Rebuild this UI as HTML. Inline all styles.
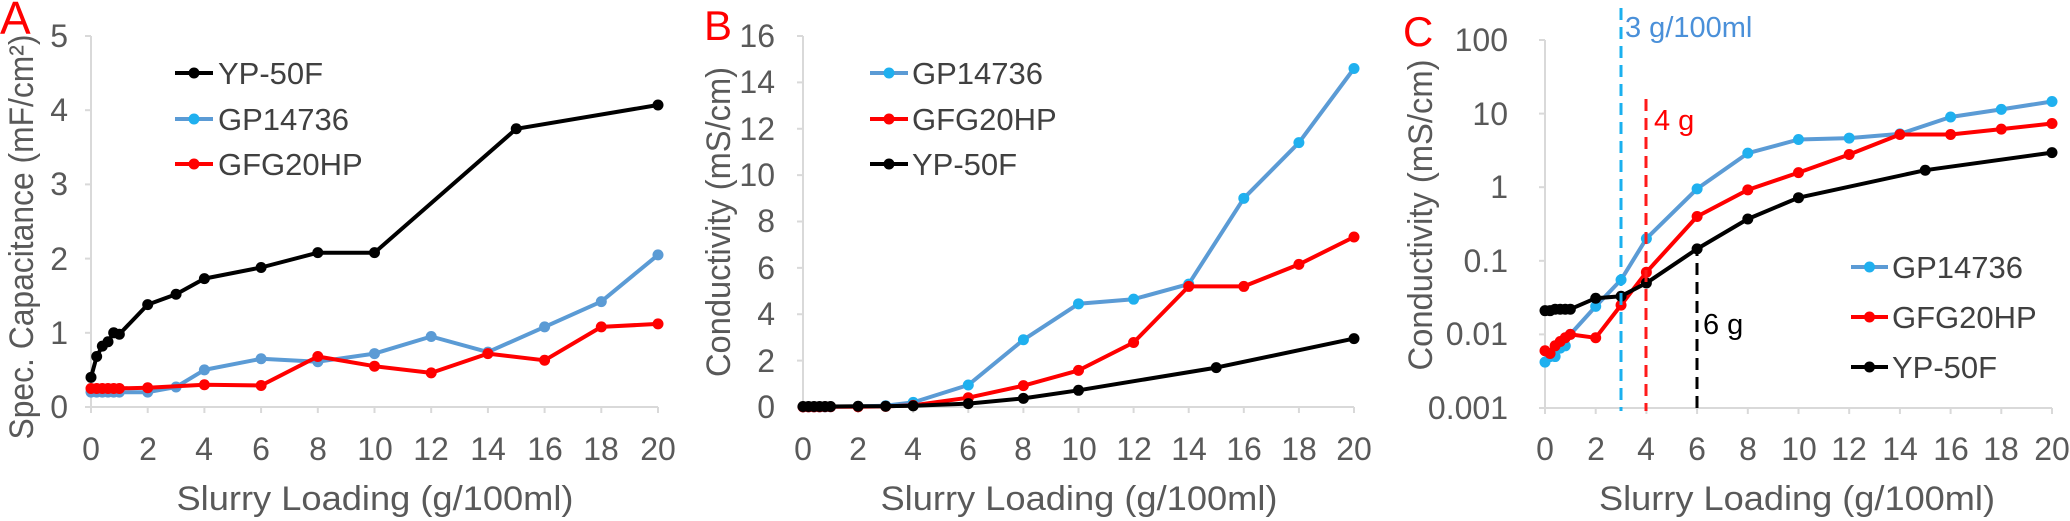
<!DOCTYPE html>
<html><head><meta charset="utf-8"><style>
html,body{margin:0;padding:0;background:#fff;}
svg{display:block;font-family:"Liberation Sans",sans-serif;}
.t{fill:#595959;font-size:32px;}
.ti{fill:#595959;font-size:34px;}
.lg{fill:#404040;font-size:31px;}
</style></head><body>
<svg id="s" width="2070" height="521" viewBox="0 0 2070 521">
<g id="axes" stroke="#d9d9d9" stroke-width="2" fill="none"></g>
<g id="series"></g>
<text x="0" y="34" fill="#ff0000" font-size="46">A</text>
<text x="704" y="40" fill="#ff0000" font-size="42">B</text>
<text x="1403" y="46" fill="#ff0000" font-size="42">C</text>
<g class="t" text-anchor="end">
<text x="68" y="47">5</text><text x="68" y="121">4</text><text x="68" y="195">3</text><text x="68" y="270">2</text><text x="68" y="344">1</text><text x="68" y="418">0</text>
</g>
<text class="ti" x="375" y="510" text-anchor="middle" textLength="397" lengthAdjust="spacingAndGlyphs">Slurry Loading (g/100ml)</text>
<text class="ti" transform="translate(33,237) rotate(-90)" text-anchor="middle" textLength="405" lengthAdjust="spacingAndGlyphs">Spec. Capacitance (mF/cm²)</text>
<text class="ti" x="1079" y="510" text-anchor="middle" textLength="397" lengthAdjust="spacingAndGlyphs">Slurry Loading (g/100ml)</text>
<text class="ti" transform="translate(730,222) rotate(-90)" text-anchor="middle" textLength="310" lengthAdjust="spacingAndGlyphs">Conductivity (mS/cm)</text>
<g class="t" text-anchor="end">
<text x="1508" y="51">100</text><text x="1508" y="125">10</text><text x="1508" y="198">1</text><text x="1508" y="272">0.1</text><text x="1508" y="345">0.01</text><text x="1508" y="419">0.001</text>
</g>
<text class="ti" x="1797" y="510" text-anchor="middle" textLength="396" lengthAdjust="spacingAndGlyphs">Slurry Loading (g/100ml)</text>
<text class="ti" transform="translate(1432,215) rotate(-90)" text-anchor="middle" textLength="311" lengthAdjust="spacingAndGlyphs">Conductivity (mS/cm)</text>
<line x1="1621" y1="8" x2="1621" y2="411" stroke="#1ab0ef" stroke-width="3" stroke-dasharray="12,7"/>
<line x1="1646" y1="99" x2="1646" y2="411" stroke="#ff1a1a" stroke-width="3" stroke-dasharray="12,7"/>
<line x1="1697" y1="244" x2="1697" y2="408" stroke="#000" stroke-width="3" stroke-dasharray="12,7"/>
<text x="1625" y="37" fill="#4a90d9" font-size="29">3 g/100ml</text>
<text x="1654" y="130" fill="#ff0000" font-size="29">4 g</text>
<text x="1703" y="334" fill="#000" font-size="29">6 g</text>
<g id="legs"></g>
<text class="lg" x="218" y="84">YP-50F</text>
<text class="lg" x="218" y="130">GP14736</text>
<text class="lg" x="218" y="175">GFG20HP</text>
<text class="lg" x="912" y="84">GP14736</text>
<text class="lg" x="912" y="130">GFG20HP</text>
<text class="lg" x="912" y="175">YP-50F</text>
<text class="lg" x="1892" y="278">GP14736</text>
<text class="lg" x="1892" y="328">GFG20HP</text>
<text class="lg" x="1892" y="378">YP-50F</text>
<g class="t" text-anchor="middle">
<text x="91" y="460">0</text><text x="148" y="460">2</text><text x="204" y="460">4</text><text x="261" y="460">6</text><text x="318" y="460">8</text><text x="375" y="460">10</text><text x="431" y="460">12</text><text x="488" y="460">14</text><text x="545" y="460">16</text><text x="601" y="460">18</text><text x="658" y="460">20</text>
<text x="803" y="460">0</text><text x="858" y="460">2</text><text x="913" y="460">4</text><text x="968" y="460">6</text><text x="1023" y="460">8</text><text x="1079" y="460">10</text><text x="1134" y="460">12</text><text x="1189" y="460">14</text><text x="1244" y="460">16</text><text x="1299" y="460">18</text><text x="1354" y="460">20</text>
<text x="1545" y="460">0</text><text x="1596" y="460">2</text><text x="1646" y="460">4</text><text x="1697" y="460">6</text><text x="1748" y="460">8</text><text x="1799" y="460">10</text><text x="1849" y="460">12</text><text x="1900" y="460">14</text><text x="1951" y="460">16</text><text x="2001" y="460">18</text><text x="2052" y="460">20</text>
</g>
<g class="t" text-anchor="end">
<text x="775" y="47">16</text><text x="775" y="93">14</text><text x="775" y="140">12</text><text x="775" y="186">10</text><text x="775" y="232">8</text><text x="775" y="279">6</text><text x="775" y="325">4</text><text x="775" y="372">2</text><text x="775" y="418">0</text>
</g>
</svg>
<script>
var NS="http://www.w3.org/2000/svg";
function el(p,n,a){var e=document.createElementNS(NS,n);for(var k in a)e.setAttribute(k,a[k]);p.appendChild(e);return e;}
var ax=document.getElementById('axes'),se=document.getElementById('series'),lg=document.getElementById('legs');
var P={A:{x0:91,x1:658,y0:407,y1:36,lo:0,hi:5,log:false},
B:{x0:803,x1:1354,y0:407,y1:36,lo:0,hi:16,log:false},
C:{x0:1545,x1:2052,y0:408,y1:40,lo:-3,hi:2,log:true}};
for(var k in P){var p=P[k];
el(ax,'line',{x1:p.x0,y1:p.y1,x2:p.x0,y2:p.y0});
el(ax,'line',{x1:p.x0,y1:p.y0,x2:p.x1,y2:p.y0});
for(var i=0;i<=10;i++){var x=p.x0+(p.x1-p.x0)*i/10;el(ax,'line',{x1:x,y1:p.y0,x2:x,y2:p.y0+6});}
var n=k=='B'?8:5;for(var i=0;i<=n;i++){var y=p.y0+(p.y1-p.y0)*i/n;el(ax,'line',{x1:p.x0-6,y1:y,x2:p.x0,y2:y});}
}
function X(p,v){return p.x0+(p.x1-p.x0)*v/20;}
function Y(p,v){if(p.log)v=Math.log10(v);return p.y0+(p.y1-p.y0)*(v-p.lo)/(p.hi-p.lo);}
var BL='#5b9bd5',BM='#1fb0ef',RD='#ff0000',BK='#000';
function series(p,xs,ys,lc,mc){var pts=[];for(var i=0;i<xs.length;i++)pts.push(X(p,xs[i]).toFixed(1)+','+Y(p,ys[i]).toFixed(1));
el(se,'polyline',{points:pts.join(' '),fill:'none',stroke:lc,'stroke-width':4,'stroke-linejoin':'round'});
for(var i=0;i<xs.length;i++)el(se,'circle',{cx:X(p,xs[i]),cy:Y(p,ys[i]),r:5.5,fill:mc});}
var xs1=[0,0.2,0.4,0.6,0.8,1,2,3,4,6,8,10,12,14,16,18,20];
series(P.A,xs1,[0.2,0.2,0.2,0.2,0.2,0.2,0.2,0.27,0.5,0.65,0.61,0.72,0.95,0.74,1.08,1.42,2.05],BL,BL);
series(P.A,[0,0.2,0.4,0.6,0.8,1,2,4,6,8,10,12,14,16,18,20],[0.25,0.25,0.25,0.25,0.25,0.25,0.26,0.3,0.29,0.68,0.55,0.46,0.72,0.63,1.08,1.12],RD,RD);
series(P.A,[0,0.2,0.4,0.6,0.8,1,2,3,4,6,8,10,15,20],[0.4,0.68,0.82,0.88,1.0,0.98,1.38,1.52,1.73,1.88,2.08,2.08,3.75,4.07],BK,BK);
var gp=[0.0042,0.005,0.005,0.0065,0.007,0.01,0.024,0.055,0.2,0.95,2.9,4.45,4.65,5.3,9.0,11.4,14.6];
var gf=[0.006,0.0055,0.007,0.008,0.009,0.01,0.009,0.025,0.07,0.4,0.92,1.58,2.78,5.2,5.2,6.15,7.33];
var ypx=[0,0.2,0.4,0.6,0.8,1,2,3,4,6,8,10,15,20];
var yp=[0.021,0.021,0.022,0.022,0.022,0.022,0.031,0.033,0.05,0.145,0.37,0.72,1.7,2.95];
series(P.B,xs1,gp,BL,BM);series(P.B,xs1,gf,RD,RD);series(P.B,ypx,yp,BK,BK);
series(P.C,xs1,gp,BL,BM);series(P.C,xs1,gf,RD,RD);series(P.C,ypx,yp,BK,BK);
function leg(x1,x2,y,lc,mc){el(lg,'line',{x1:x1,y1:y,x2:x2,y2:y,stroke:lc,'stroke-width':4});el(lg,'circle',{cx:(x1+x2)/2,cy:y,r:5.5,fill:mc});}
leg(175,213,73,BK,BK);leg(175,213,119,BL,BM);leg(175,213,164,RD,RD);
leg(870,908,73,BL,BM);leg(870,908,119,RD,RD);leg(870,908,164,BK,BK);
leg(1851,1888,267,BL,BM);leg(1851,1888,317,RD,RD);leg(1851,1888,367,BK,BK);
</script>
</body></html>
